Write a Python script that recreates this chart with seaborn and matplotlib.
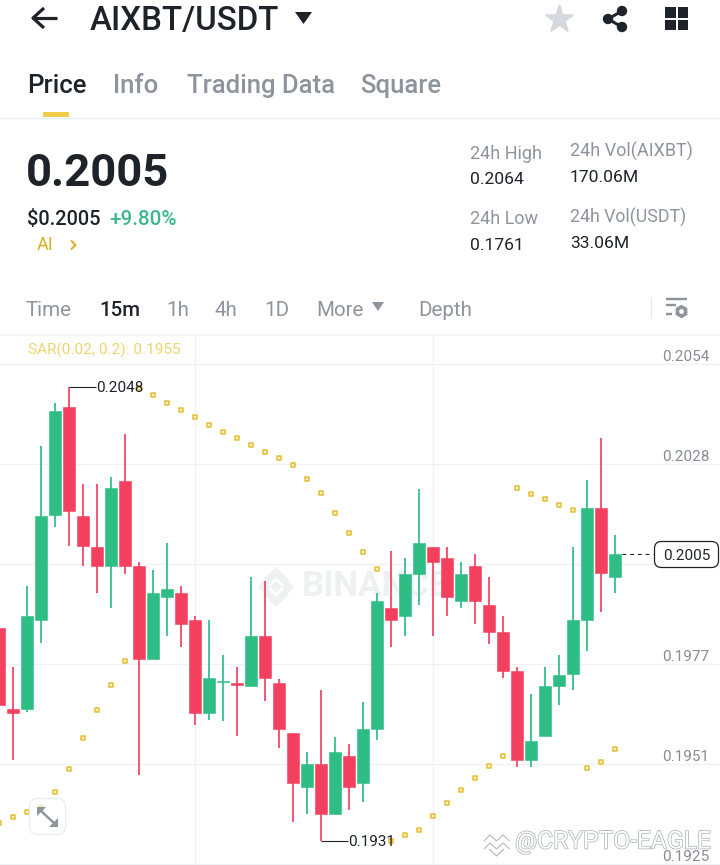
import numpy as np
import pandas as pd
import seaborn as sns
import matplotlib
matplotlib.use("Agg")
import matplotlib.pyplot as plt
from matplotlib.patches import Polygon, Rectangle, FancyBboxPatch, Circle
import matplotlib.patheffects as pe

# ---------- data ----------
candle_index = list(range(-1, 44))
opens = [.19859, .19650, .19650, .19880, .20150, .20429, .20148, .20068, .20019, .20238,
         .20019, .19779, .19939, .19949, .19880, .19640, .19719, .19717, .19709, .19838,
         .19717, .19588, .19449, .19508, .19379, .19529, .19459, .19598, .19910, .19890,
         .19998, .20068, .20040, .19929, .20019, .19918, .19849, .19748, .19518, .19580,
         .19709, .19740, .19880, .20168, .19991]
highs = [.19967, .19758, .19967, .20328, .20439, .20481, .20230, .20230, .20248, .20359,
         .20029, .20009, .20078, .19967, .19890, .19880, .19789, .19758, .19991, .19980,
         .19727, .19588, .19539, .19699, .19578, .19560, .19668, .19949, .20058, .20040,
         .20218, .20068, .20068, .20029, .20050, .19991, .19890, .19758, .19689, .19758,
         .19789, .20068, .20241, .20349, .20099]
lows = [.19632, .19518, .19642, .19820, .20119, .20070, .20019, .19949, .19910, .19998,
        .19480, .19779, .19838, .19810, .19609, .19622, .19619, .19580, .19709, .19671,
        .19549, .19358, .19379, .19309, .19379, .19389, .19410, .19570, .19810, .19838,
        .19918, .19838, .19890, .19910, .19869, .19818, .19730, .19499, .19499, .19580,
        .19660, .19699, .19800, .19900, .19949]
closes = [.19660, .19640, .19890, .20148, .20419, .20161, .20070, .20019, .20220, .20019,
          .19779, .19949, .19960, .19869, .19640, .19730, .19722, .19712, .19838, .19730,
          .19598, .19459, .19508, .19379, .19539, .19449, .19598, .19929, .19880, .19998,
          .20078, .20029, .19939, .19998, .19929, .19849, .19748, .19518, .19567, .19709,
          .19738, .19880, .20168, .20001, .20050]
sar_values = [.193565, .193712, .193841, .193945, .194357, .194951, .195751, .196473, .197118, .197737,
              .204781, .204600, .204394, .204213, .204032, .203826, .203646, .203491, .203310, .203129,
              .202975, .202794, .202433, .202072, .201556, .201040, .200550, .200111,
              .193094, .193249, .193378, .193738, .194074, .194409, .194719, .195029, .195287,
              .202201, .202046, .201917, .201762, .201633,
              .194977, .195132, .195467]
price_ticks = [0.2054, 0.20282, 0.20024, 0.19766, 0.19508, 0.1925]
price_tick_labels = ['0.2054', '0.2028', '', '0.1977', '0.1951', '0.1925']
time_grid_index = [13, 30]

tabs = ['Price', 'Info', 'Trading Data', 'Square']
intervals = ['Time', '15m', '1h', '4h', '1D', 'More', 'Depth']

GREEN = '#2EBD85'
RED = '#F4405F'
INK = '#1E2329'
GREY = '#8E949C'
YELLOW = '#E6BE2E'

sns.set_style('white')
plt.rcParams['font.family'] = ['Roboto', 'DejaVu Sans']

W, H = 720, 865
fig = plt.figure(figsize=(7.2, 8.65), dpi=100, facecolor='white')

# ---------- chart axes ----------
ax = fig.add_axes([0, 0, 1, (865 - 336) / 865])
df = pd.DataFrame({'i': candle_index, 'o': opens, 'h': highs, 'l': lows, 'c': closes, 'sar': sar_values})
df['col'] = np.where(df.c >= df.o, GREEN, RED)
df['bottom'] = df[['o', 'c']].min(axis=1)
df['height'] = (df.o - df.c).abs()

ax.vlines(df.i, df.l, df.h, colors=df.col, lw=1.25, zorder=3)
ax.bar(df.i, df.height, bottom=df.bottom, width=0.86, color=df.col, edgecolor=df.col, lw=0.4, zorder=4)
sns.scatterplot(data=df, x='i', y='sar', ax=ax, marker='s', s=11, color='#FBF3CC',
                edgecolor=YELLOW, linewidth=1.1, zorder=5, legend=False)

ax.set_xlim(-0.95, 50.48)
ax.set_ylim(0.1924742, 0.2061224)
ax.set_xticks(time_grid_index)
ax.set_xticklabels([])
ax.set_yticks(price_ticks)
ax.set_yticklabels(price_tick_labels)
ax.set_xlabel('')
ax.set_ylabel('')
ax.grid(True, color='#F0F1F3', lw=0.9, zorder=0)
ax.set_axisbelow(True)
for s in ax.spines.values():
    s.set_visible(False)
ax.tick_params(axis='x', length=0)
ax.tick_params(axis='y', length=0, left=False, right=False, labelleft=False, labelright=True,
               pad=-7.6, labelsize=11, labelcolor='#868C94')
for t in ax.get_yticklabels():
    t.set_ha('right')
    t.set_va('bottom')

# ---------- overlay in pixels ----------
ui = fig.add_axes([0, 0, 1, 1], facecolor='none')
ui.set_xlim(0, W)
ui.set_ylim(H, 0)
ui.axis('off')


def txt(x, y, s, px, color=INK, weight='normal', ha='left', **kw):
    return ui.text(x, y + 1.5, s, fontsize=px * 0.72, color=color, fontweight=weight, ha=ha, va='center', **kw)


def line(xs, ys, color=INK, w=1.0, **kw):
    ui.plot(xs, ys, color=color, lw=w * 0.72, solid_capstyle=kw.pop('cap', 'butt'), **kw)


# watermark behind the candles
wm = '#EEF0F2'
wm_ax = fig.add_axes([0, 0, 1, 1], facecolor='none', zorder=-1)
wm_ax.set_xlim(0, W)
wm_ax.set_ylim(H, 0)
wm_ax.axis('off')
ax.set_zorder(1)
ax.patch.set_alpha(0)
ui.set_zorder(2)
wm_ax.text(302, 587, 'BINANCE', fontsize=25, color=wm, fontweight='bold', va='center')
cx, cy = 276, 587
for poly in ([(cx, cy - 6), (cx + 6, cy), (cx, cy + 6), (cx - 6, cy)],
             [(cx - 18, cy), (cx - 12, cy - 6), (cx - 6, cy), (cx - 12, cy + 6)],
             [(cx + 18, cy), (cx + 12, cy - 6), (cx + 6, cy), (cx + 12, cy + 6)],
             [(cx, cy - 20), (cx + 13, cy - 7), (cx + 8, cy - 2), (cx, cy - 10), (cx - 8, cy - 2), (cx - 13, cy - 7)],
             [(cx, cy + 20), (cx + 13, cy + 7), (cx + 8, cy + 2), (cx, cy + 10), (cx - 8, cy + 2), (cx - 13, cy + 7)]):
    wm_ax.add_patch(Polygon(poly, closed=True, color=wm, lw=0))

# header
line([33, 57], [18, 18], w=3.2)
line([44, 33, 44], [8, 18, 28], w=3.2)
txt(90, 19, 'AIXBT/USDT', 33, weight='medium')
ui.add_patch(Polygon([(295, 12), (312, 12), (303.5, 24)], closed=True, color=INK, lw=0))
ui.scatter([559], [19], marker='*', s=400, color='#D5D8DC', edgecolor='#D5D8DC', lw=1.5)
# share
line([622, 608, 622], [11, 19, 27], w=3)
for p in [(622, 11), (608, 19), (622, 27)]:
    ui.add_patch(Circle(p, 5.2, color=INK, lw=0))
# grid
for (x, y, w_, h_) in [(665, 7, 10.5, 10.5), (677.5, 7, 10.5, 10.5), (665, 19.5, 10.5, 10.5), (677.5, 19.5, 10.5, 10.5)]:
    ui.add_patch(Rectangle((x, y), w_, h_, color=INK, lw=0))

# tabs
for x, s, col in zip([27.5, 113, 187, 360], tabs, [INK, GREY, GREY, GREY]):
    txt(x, 84.5, s, 25.7, color=col, weight='medium')
ui.add_patch(Rectangle((43, 112), 26, 5, color='#F0CE4A', lw=0))
line([0, 720], [117.5, 117.5], color='#EAECEF', w=1.2)

# price block
txt(26, 172, '0.2005', 45.5, weight='bold')
txt(27, 218, '$0.2005', 20, weight='medium')
txt(109, 218, '+9.80%', 20.5, color='#3CB88A', weight='medium')
txt(37, 244, 'AI', 18, color='#D9AE22')
line([71, 75.5, 71], [240.5, 245, 249.5], color='#D9AE22', w=2)

# 24h stats
txt(470, 152.5, '24h High', 18, color=GREY)
txt(470, 178.5, '0.2064', 17.5, color=INK)
txt(470, 218, '24h Low', 18, color=GREY)
txt(470, 244.5, '0.1761', 17.5, color=INK)
txt(570, 149.5, '24h Vol(AIXBT)', 18, color=GREY)
txt(570, 175.5, '170.06M', 17.5, color=INK)
txt(570, 215.5, '24h Vol(USDT)', 17.8, color=GREY)
txt(570, 242, '33.06M', 17.5, color=INK)

# interval row
for x, s in zip([26, 99, 166.5, 214.5, 264.5, 316.5, 418], intervals):
    txt(x, 308.5, s, 20.5, color=INK if s == '15m' else GREY, weight='medium' if s == '15m' else 'normal')
ui.add_patch(Polygon([(372, 302), (384, 302), (378, 311)], closed=True, color=GREY, lw=0))
line([651, 651], [297, 318], color='#E6E8EB', w=1.2)
line([666, 687], [298.5, 298.5], color=GREY, w=2.4)
line([666, 676], [305, 305], color=GREY, w=2.4)
line([666, 672], [314, 314], color=GREY, w=2.4)
ui.scatter([681], [311], marker='h', s=95, color=GREY, lw=0)
ui.scatter([681], [311], marker='o', s=12, color='white', lw=0)
line([0, 720], [335, 335], color='#F3F4F6', w=2.2)

# chart labels
txt(28, 348.5, 'SAR(0.02, 0.2): 0.1955', 15.4, color='#EFD46E')
line([69, 96], [387, 387], w=1.1)
txt(96, 387, '0.2048', 15.3)
line([321, 348], [841, 841], w=1.1)
txt(348, 840.5, '0.1931', 15.3)

# last price
line([622, 653], [554, 554], w=1.1, ls=(0, (3.5, 3.5)))
ui.add_patch(FancyBboxPatch((654.5, 541.5), 64, 26, boxstyle='round,pad=0,rounding_size=7',
                            fc='white', ec=INK, lw=0.9))
txt(686.5, 554.5, '0.2005', 15.3, ha='center')

# expand control
ui.add_patch(FancyBboxPatch((29.5, 798.5), 36, 36, boxstyle='round,pad=0,rounding_size=8',
                            fc=(1, 1, 1, 0.55), ec='#EAECEF', lw=0.9))
ui.add_patch(Polygon([(37, 807), (46, 807), (37, 816)], closed=True, color='#8E949C', lw=0))
ui.add_patch(Polygon([(58, 827), (49, 827), (58, 818)], closed=True, color='#8E949C', lw=0))
line([40, 55], [810, 824], color='#8E949C', w=2.4)

# bottom watermark
t = txt(515, 840, '@CRYPTO-EAGLE', 24.6, color='white', weight='normal')
t.set_path_effects([pe.withStroke(linewidth=1.0, foreground='#A9ADB3')])
for dy in (0, 8):
    line([484, 490, 496.5, 503, 509.5], [841 + dy, 835 + dy, 841 + dy, 835 + dy, 841 + dy], color='#B5B8BD', w=1.1)
line([489, 496.5, 504], [849, 856, 849], color='#B5B8BD', w=1.2)

fig.savefig('out.png', dpi=100, facecolor='white')
